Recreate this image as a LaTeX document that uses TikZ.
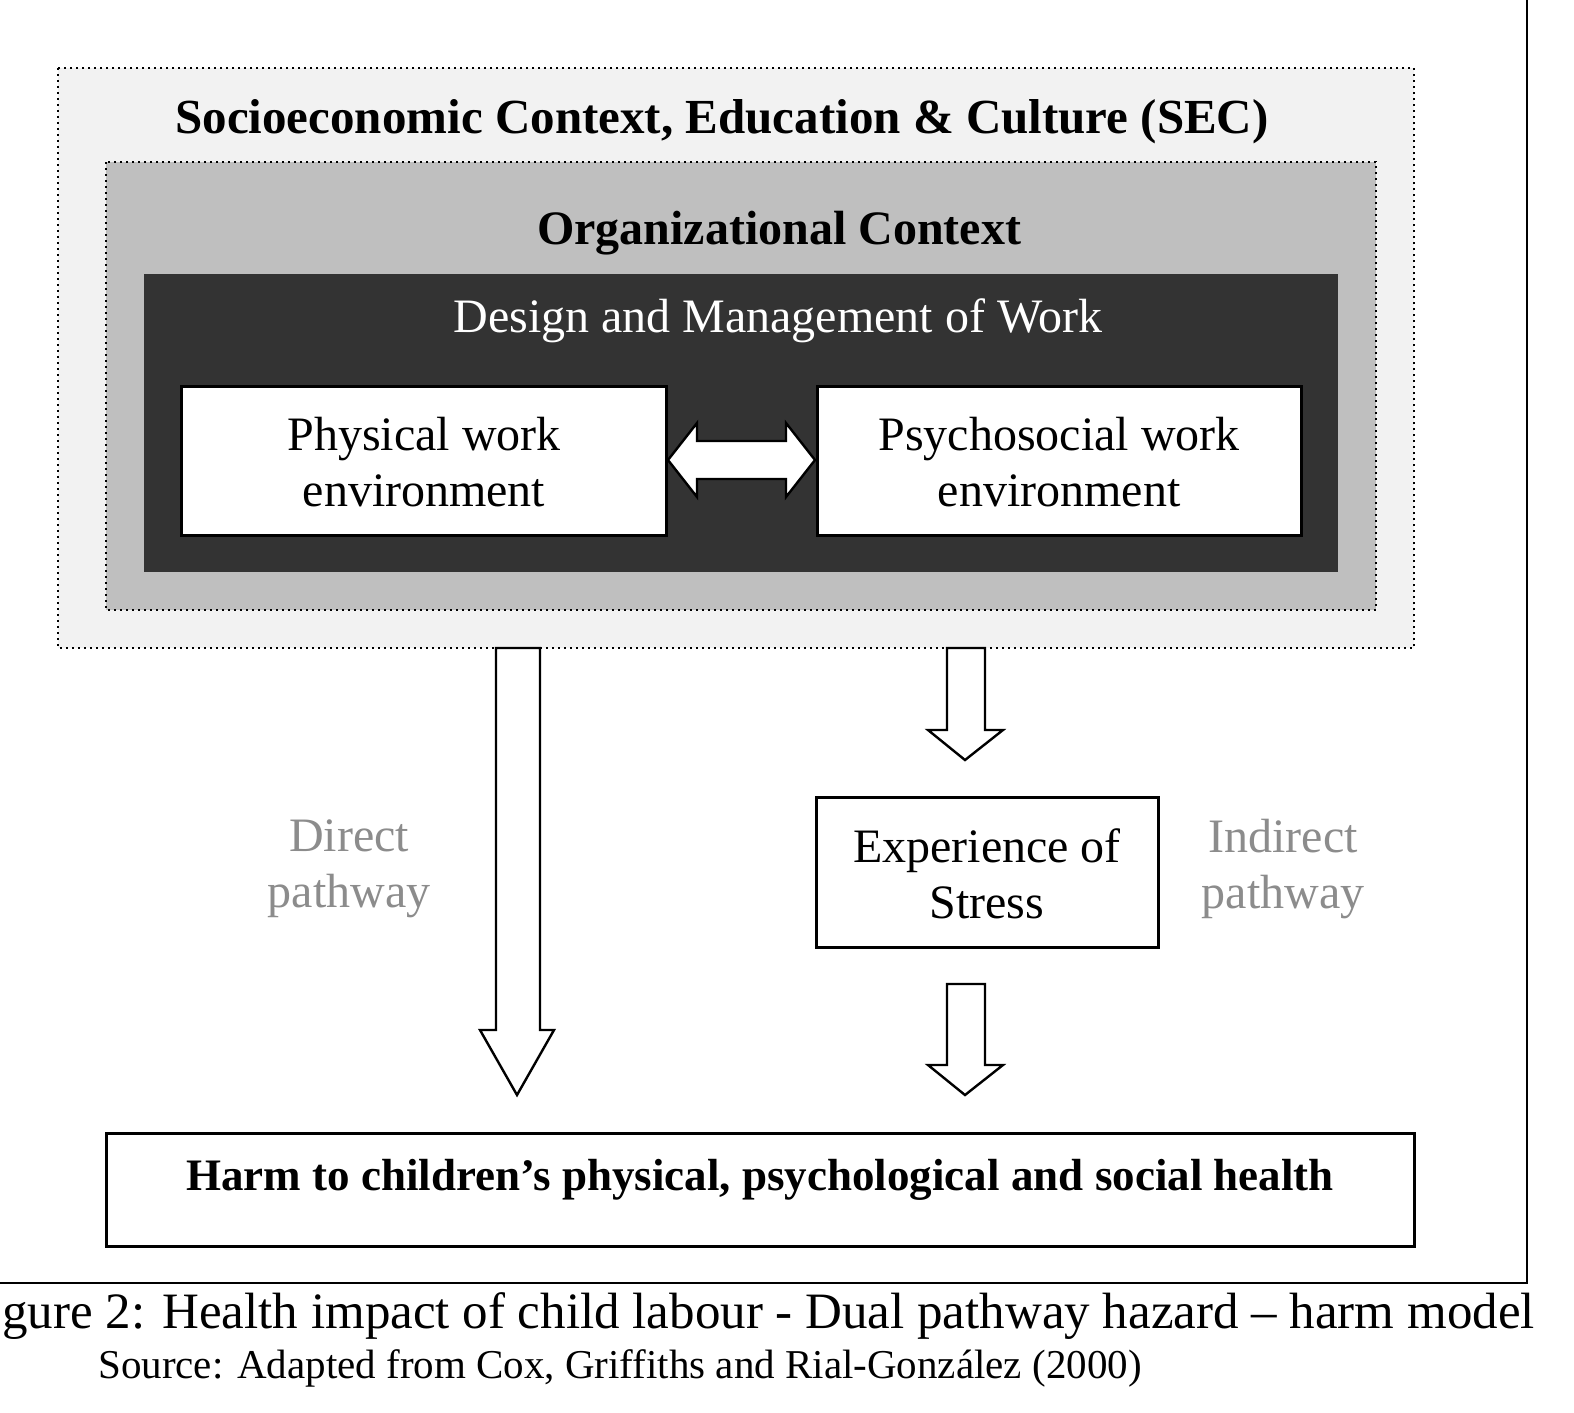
\documentclass[tikz,border=0pt]{standalone}
\usepackage{fontspec}
\setmainfont{Liberation Serif}
\begin{document}
\begin{tikzpicture}[x=0.5pt,y=-0.5pt,
  box/.style={draw=black,line width=1.5pt,fill=white},
  dotbox/.style={draw=black,dotted,line width=1pt},
  arr/.style={draw=black,line width=1.2pt,fill=white,line join=miter},
  lbl/.style={align=center,font=\fontsize{24}{28}\selectfont},
  grey/.style={lbl,text=black!45}]
\useasboundingbox (0,0) rectangle (1574,1413);
\fill[white] (0,0) rectangle (1574,1413);
\draw[line width=1.2pt] (1527,0) -- (1527,1283) -- (0,1283);
\draw[dotbox,fill=black!5] (58,68) rectangle (1414,648);
\node[font=\bfseries\fontsize{24.5}{28}\selectfont] (sec) at (722,122) {Socioeconomic Context, Education \& Culture (SEC)};
\draw[dotbox,fill=black!25] (106,162) rectangle (1376,610);
\node[font=\bfseries\fontsize{24}{28}\selectfont] (org) at (779,233) {Organizational Context};
\fill[black!80] (144,274) rectangle (1338,572);
\node[lbl,text=white] (dm) at (778,321) {Design and Management of Work};
\draw[box] (181,386) rectangle (666,535);
\node[lbl] (phy) at (424,462) {Physical work\\environment};
\draw[box] (817,386) rectangle (1301,535);
\node[lbl] (psy) at (1059,462) {Psychosocial work\\environment};
\draw[arr] (668,460) -- (697,423) -- (697,441) -- (786,441) -- (786,423) -- (815,460) -- (786,497) -- (786,479) -- (697,479) -- (697,497) -- cycle;
\draw[arr] (496,648) -- (540,648) -- (540,1030) -- (554,1030) -- (517,1095) -- (480,1030) -- (496,1030) -- cycle;
\draw[arr] (947,648) -- (985,648) -- (985,730) -- (1003,730) -- (965,760) -- (928,730) -- (947,730) -- cycle;
\draw[box] (816,797) rectangle (1158,947);
\node[lbl] (st) at (987,874) {Experience of\\Stress};
\draw[arr] (947,984) -- (985,984) -- (985,1065) -- (1003,1065) -- (965,1095) -- (928,1065) -- (947,1065) -- cycle;
\node[grey] (dir) at (349,869) {Direct\\pathway};
\node[grey] (ind) at (1283,869) {Indirect\\pathway};
\draw[box] (106,1133) rectangle (1414,1246);
\node[font=\bfseries\fontsize{22.5}{26}\selectfont] (harm) at (760,1180) {Harm to children’s physical, psychological and social health};
\node[anchor=west,font=\fontsize{25.5}{28}\selectfont,inner sep=0] (cap) at (2,1316) {gure 2: Health impact of child labour - Dual pathway hazard – harm model};
\node[font=\fontsize{20.5}{24}\selectfont] (src) at (620,1368) {Source: Adapted from Cox, Griffiths and Rial-González (2000)};
\end{tikzpicture}
\end{document}
